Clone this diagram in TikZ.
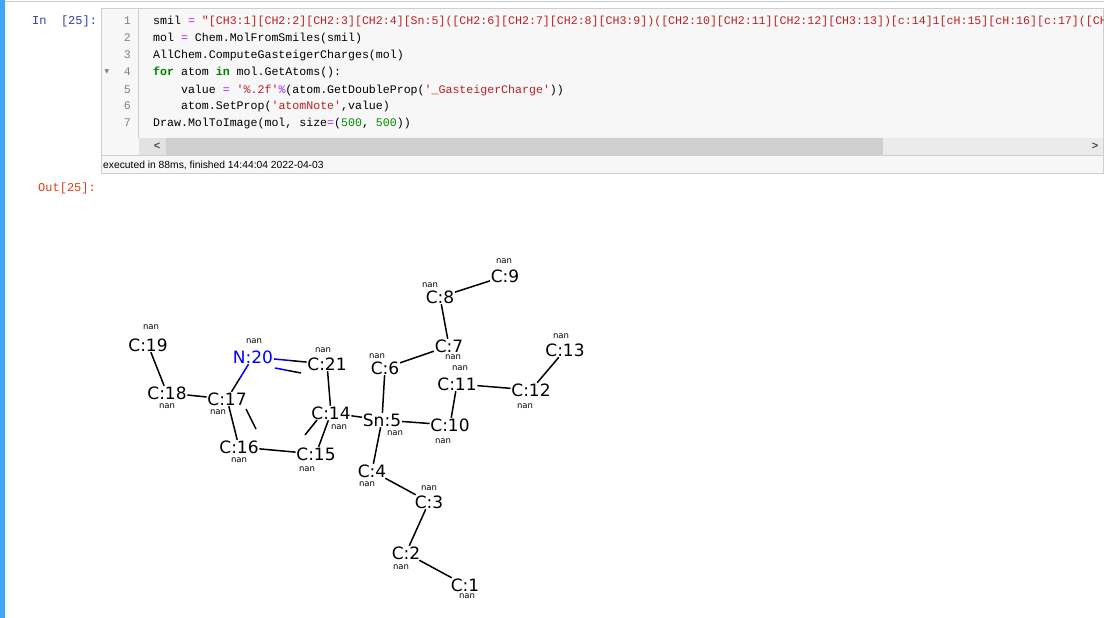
\documentclass[tikz,border=0pt]{standalone}
\usepackage{fontspec}
\setmainfont{DejaVu Sans}
\newfontfamily\codefont{Liberation Mono}
\newfontfamily\uifont{Liberation Sans}
\usetikzlibrary{calc}
\definecolor{cbg}{HTML}{F7F7F7}
\definecolor{cbd}{HTML}{CFCFCF}
\definecolor{kw}{HTML}{008000}
\definecolor{str}{HTML}{BA2121}
\definecolor{op}{HTML}{AA22FF}
\definecolor{num}{HTML}{008800}
\definecolor{inc}{HTML}{303F9F}
\definecolor{outc}{HTML}{D84315}
\definecolor{bar}{HTML}{42A5F5}
\definecolor{nblue}{HTML}{0000FF}
\tikzset{
 atom/.style={font=\fontsize{17}{18}\selectfont, inner sep=0.6pt},
 note/.style={font=\fontsize{8.5}{9}\selectfont, inner sep=0pt},
 bond/.style={line width=1.5pt},
 codeline/.style={anchor=base west, inner sep=0pt, font=\codefont\fontsize{11.6}{13}\selectfont},
 lnum/.style={anchor=base east, inner sep=0pt, text=gray, font=\codefont\fontsize{11.6}{13}\selectfont},
}
\begin{document}
\begin{tikzpicture}[x=1pt,y=-1pt]
\useasboundingbox (0,0) rectangle (1104,618);
\fill[white] (0,0) rectangle (1104,618);
\fill[bar] (0,0) rectangle (5,618);
\draw[cbd,line width=1pt] (5,1.5) -- (1104,1.5);
% prompts
\node[anchor=base west,inner sep=0,text=inc,font=\codefont\fontsize{12}{13}\selectfont] (inp) at (32,25) {In\ \ [25]:};
\node[anchor=base west,inner sep=0,text=outc,font=\codefont\fontsize{12}{13}\selectfont] (outp) at (38,191) {Out[25]:};
% code box
\fill[cbg] (101,8) rectangle (1103,173);
\draw[cbd] (138,8) -- (138,138);
\fill[cbd!60] (139,138) rectangle (1103,155);
\fill[cbd] (166,138) rectangle (883,155);
\fill[cbg!95!black] (883,138) rectangle (1103,155);
\node[font=\uifont\bfseries\fontsize{11}{12}\selectfont,text=gray!60!black] (la) at (157,146.5) {<};
\node[font=\uifont\bfseries\fontsize{11}{12}\selectfont,text=gray!60!black] (ra) at (1095,146.5) {>};
\draw[cbd] (101,155.5) -- (1103,155.5);
\draw[cbd] (101,8) rectangle (1103,173);
\node[anchor=base west,inner sep=0,font=\uifont\fontsize{10.3}{11}\selectfont] (st) at (103,168) {executed in 88ms, finished 14:44:04 2022-04-03};
% line numbers
\foreach \n/\yy in {1/25,2/42,3/59,4/76,5/93,6/110,7/127}{\node[lnum] (ln\n) at (131,\yy) {\n};}
\node[text=gray,font=\fontsize{6}{7}\selectfont] (fold) at (107,72) {▼};
\begin{scope}
\clip (139,8) rectangle (1103,137);
\node[codeline] (l1) at (153,25) {smil \textcolor{op}{=} \textcolor{str}{"[CH3:1][CH2:2][CH2:3][CH2:4][Sn:5]([CH2:6][CH2:7][CH2:8][CH3:9])([CH2:10][CH2:11][CH2:12][CH3:13])[c:14]1[cH:15][cH:16][c:17]([CH2:18][CH3:19])[n:20][cH:21]1"}};
\node[codeline] (l2) at (153,42) {mol \textcolor{op}{=} Chem.MolFromSmiles(smil)};
\node[codeline] (l3) at (153,59) {AllChem.ComputeGasteigerCharges(mol)};
\node[codeline] (l4) at (153,76) {\textcolor{kw}{\bfseries for} atom \textcolor{kw}{\bfseries in} mol.GetAtoms():};
\node[codeline] (l5) at (153,93) {\ \ \ \ value \textcolor{op}{=} \textcolor{str}{'\%.2f'}\textcolor{op}{\%}(atom.GetDoubleProp(\textcolor{str}{'\_GasteigerCharge'}))};
\node[codeline] (l6) at (153,110) {\ \ \ \ atom.SetProp(\textcolor{str}{'atomNote'},value)};
\node[codeline] (l7) at (153,127) {Draw.MolToImage(mol, size\textcolor{op}{=}(\textcolor{num}{500}, \textcolor{num}{500}))};
\end{scope}
% atoms
\node[atom] (c19) at (148,345) {C:19};
\node[atom] (c18) at (167,393) {C:18};
\node[atom] (c17) at (227,399) {C:17};
\node[atom,text=nblue] (n20) at (253,357) {N:20};
\node[atom] (c21) at (327,364) {C:21};
\node[atom] (c14) at (331,413) {C:14};
\node[atom] (sn5) at (382,420) {Sn:5};
\node[atom] (c16) at (239,447) {C:16};
\node[atom] (c15) at (316,454) {C:15};
\node[atom] (c6) at (385,368) {C:6};
\node[atom] (c7) at (449,346) {C:7};
\node[atom] (c8) at (440,297) {C:8};
\node[atom] (c9) at (505,276) {C:9};
\node[atom] (c11) at (457,384) {C:11};
\node[atom] (c12) at (531,390) {C:12};
\node[atom] (c13) at (565,350) {C:13};
\node[atom] (c10) at (450,425) {C:10};
\node[atom] (c4) at (372,471) {C:4};
\node[atom] (c3) at (429,502) {C:3};
\node[atom] (c2) at (406,553) {C:2};
\node[atom] (c1) at (465,585) {C:1};
% notes
\foreach \nm/\xx/\yy in {19/151/327,18/167/406,17/218/412,20/254/341,21/323/350,14/339/427,5/395/433,16/239/460,15/307/469,6/377/356,7/453/357,8/430/285,9/504/261,11/460/368,12/525/406,13/561/336,10/443/441,4/367/484,3/429/488,2/401/567,1/467/596}{\node[note] (nan\nm) at (\xx,\yy) {nan};}
% bonds
\draw[bond] (c19) -- (c18);
\draw[bond] (c18) -- (c17);
\draw[bond] (c17) -- (c16);
\draw[bond] (c16) -- (c15);
\draw[bond] (c15) -- (c14);
\draw[bond] (c14) -- (c21);
\draw[bond] (c14) -- (sn5);
\draw[bond] (sn5) -- (c6);
\draw[bond] (sn5) -- (c10);
\draw[bond] (sn5) -- (c4);
\draw[bond] (c6) -- (c7);
\draw[bond] (c7) -- (c8);
\draw[bond] (c8) -- (c9);
\draw[bond] (c10) -- (c11);
\draw[bond] (c11) -- (c12);
\draw[bond] (c12) -- (c13);
\draw[bond] (c4) -- (c3);
\draw[bond] (c3) -- (c2);
\draw[bond] (c2) -- (c1);
% hetero bonds half coloured
\coordinate (m1) at ($(n20.center)!0.5!(c17.center)$);
\draw[bond] (c17) -- (m1);
\draw[bond,nblue] (n20) -- (m1);
\coordinate (m2) at ($(n20.center)!0.5!(c21.center)$);
\draw[bond] (c21) -- (m2);
\draw[bond,nblue] (n20) -- (m2);
% inner double-bond lines
\coordinate (d1a) at (275,368); \coordinate (d1m) at (288,370.5); \coordinate (d1b) at (301,373);
\draw[bond,nblue] (d1a) -- (d1m);
\draw[bond] (d1m) -- (d1b);
\coordinate (d2a) at (246,409); \coordinate (d2b) at (256,429);
\draw[bond] (d2a) -- (d2b);
\coordinate (d3a) at (317,420); \coordinate (d3b) at (305,435);
\draw[bond] (d3a) -- (d3b);
\end{tikzpicture}
\end{document}
